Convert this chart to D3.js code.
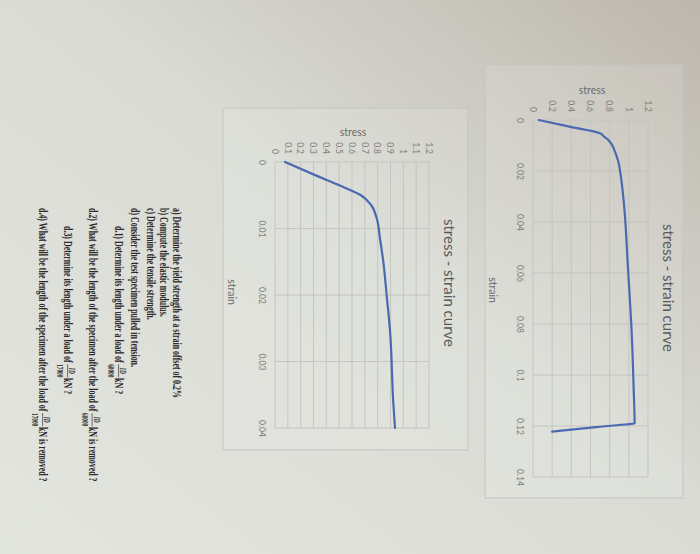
<!DOCTYPE html>
<html><head><meta charset="utf-8">
<script src="https://cdn.jsdelivr.net/npm/d3@7"></script>
<style>
html,body{margin:0;padding:0;background:#dcdfd8;overflow:hidden;}
svg{display:block;}
</style></head><body>
<svg id="c" width="700" height="554"></svg>
<script>
// ---------- data ----------
const chartTitle = "stress - strain curve";
const xAxisTitle = "strain";
const yAxisTitle = "stress";

// chart 1 (full curve)
const c1Strain = [0, 0.0026, 0.0052, 0.0065, 0.0078, 0.0092, 0.0124, 0.0163, 0.0216, 0.0333, 0.0575, 0.0837, 0.105, 0.119, 0.1196, 0.1203, 0.1212, 0.1222];
const c1Stress = [0.06, 0.38, 0.70, 0.74, 0.785, 0.815, 0.855, 0.89, 0.915, 0.95, 0.99, 1.03, 1.05, 1.06, 0.90, 0.70, 0.45, 0.20];
const c1StrainTicks = [0, 0.02, 0.04, 0.06, 0.08, 0.1, 0.12, 0.14];
const c1StrainLabels = ["0", "0.02", "0.04", "0.06", "0.08", "0.1", "0.12", "0.14"];
const c1StressTicks = [0, 0.2, 0.4, 0.6, 0.8, 1, 1.2];
const c1StressLabels = ["0", "0.2", "0.4", "0.6", "0.8", "1", "1.2"];

// chart 2 (zoomed start)
const c2Strain = [0, 0.0022, 0.0035, 0.005, 0.0065, 0.0085, 0.0115, 0.015, 0.020, 0.0253, 0.0363, 0.040];
const c2Stress = [0.078, 0.34, 0.50, 0.67, 0.75, 0.793, 0.818, 0.844, 0.87, 0.896, 0.922, 0.935];
const c2StrainTicks = [0, 0.01, 0.02, 0.03, 0.04];
const c2StrainLabels = ["0", "0.01", "0.02", "0.03", "0.04"];
const c2StressTicks = [0, 0.1, 0.2, 0.3, 0.4, 0.5, 0.6, 0.7, 0.8, 0.9, 1, 1.1, 1.2];
const c2StressLabels = ["0", "0.1", "0.2", "0.3", "0.4", "0.5", "0.6", "0.7", "0.8", "0.9", "1", "1.1", "1.2"];

// question text
const qText = [
  "a) Determine the yield strength at a strain offset of 0.2%",
  "b) Compute the elastic modulus.",
  "c) Determine the tensile strength.",
  "d) Consider the test specimen pulled in tension.",
  "d.1) Determine its length under a load of",
  "d.2) What will be the length of the specimen after the load of",
  "d.3) Determine its length under a load of",
  "d.4) What will be the length of the specimen after the load of"
];
const qNum = ["", "", "", "", "ID", "ID", "ID", "ID"];
const qDen = ["", "", "", "", "60000", "60000", "17000", "17000"];
const qSuffix = ["", "", "", "", " kN ?", " kN is removed ?", " kN ?", " kN is removed ?"];

// ---------- layout (page is photographed sideways) ----------
const svg = d3.select("#c");
const defs = svg.append("defs");
const bg = defs.append("linearGradient").attr("id", "bg")
  .attr("x1", 0).attr("y1", 1).attr("x2", 1).attr("y2", 0);
bg.append("stop").attr("offset", "0").attr("stop-color", "#e3e5df");
bg.append("stop").attr("offset", "0.55").attr("stop-color", "#d9dbd4");
bg.append("stop").attr("offset", "1").attr("stop-color", "#bdb7ad");
svg.append("rect").attr("width", 700).attr("height", 554).attr("fill", "url(#bg)");

// upright page frame (u along page width, v along page height), rotated into the photo
const root = svg.append("g").attr("transform", "translate(700,0) rotate(90)");
const chartFont = "Lato, 'Open Sans', sans-serif";

function drawChart(o) {
  const g = root.append("g");
  g.append("rect")
    .attr("x", o.box[0]).attr("y", o.box[2])
    .attr("width", o.box[1] - o.box[0]).attr("height", o.box[3] - o.box[2])
    .attr("fill", "rgba(255,255,255,0.12)").attr("stroke", "#c4c5c0").attr("stroke-width", 1);

  const x = d3.scaleLinear().domain([0, d3.max(o.strainTicks)]).range([o.plot[0], o.plot[1]]);
  const y = d3.scaleLinear().domain([0, d3.max(o.stressTicks)]).range([o.plot[3], o.plot[2]]);

  g.append("g").selectAll("line").data(o.stressTicks).join("line")
    .attr("x1", x.range()[0]).attr("x2", x.range()[1])
    .attr("y1", d => y(d)).attr("y2", d => y(d))
    .attr("stroke", "#c2c3be").attr("stroke-width", 0.9);
  g.append("g").selectAll("line").data(o.strainTicks).join("line")
    .attr("x1", d => x(d)).attr("x2", d => x(d))
    .attr("y1", y.range()[0]).attr("y2", y.range()[1])
    .attr("stroke", "#c2c3be").attr("stroke-width", 0.9);

  const ya = g.append("g").attr("transform", `translate(${o.plot[0]},0)`)
    .call(d3.axisLeft(y).tickValues(o.stressTicks).tickFormat((d, i) => o.stressLabels[i]).tickSize(0).tickPadding(o.yPad));
  ya.select(".domain").remove();
  ya.selectAll("text").attr("font-family", chartFont).attr("font-size", 8.5).attr("fill", "#7c7c7a");

  const xa = g.append("g").attr("transform", `translate(0,${o.plot[3]})`)
    .call(d3.axisBottom(x).tickValues(o.strainTicks).tickFormat((d, i) => o.strainLabels[i]).tickSize(0).tickPadding(o.xPad));
  xa.select(".domain").remove();
  xa.selectAll("text").attr("font-family", chartFont).attr("font-size", 8.5).attr("fill", "#7c7c7a");

  const pts = o.strain.map((s, i) => [s, o.stress[i]]);
  g.append("path").datum(pts)
    .attr("d", d3.line().x(d => x(d[0])).y(d => y(d[1])).curve(d3.curveMonotoneX))
    .attr("fill", "none").attr("stroke", "#4a69b0").attr("stroke-width", 2.2)
    .attr("stroke-linejoin", "round").attr("stroke-linecap", "round");

  g.append("text").attr("x", o.titlePos[0]).attr("y", o.titlePos[1])
    .attr("text-anchor", "middle").attr("font-family", chartFont).attr("font-size", 15)
    .attr("fill", "#5a5a58").text(chartTitle);
  g.append("text").attr("transform", `translate(${o.yTitlePos[0]},${o.yTitlePos[1]}) rotate(-90)`)
    .attr("dy", "0.35em").attr("text-anchor", "middle").attr("font-family", chartFont)
    .attr("font-size", 10.5).attr("fill", "#6c6c6a").text(yAxisTitle);
  g.append("text").attr("x", o.xTitlePos[0]).attr("y", o.xTitlePos[1])
    .attr("dy", "0.35em").attr("text-anchor", "middle").attr("font-family", chartFont)
    .attr("font-size", 10.5).attr("fill", "#6c6c6a").text(xAxisTitle);
}

drawChart({
  box: [65, 498, 17, 215], plot: [120, 477, 52, 167],
  strain: c1Strain, stress: c1Stress,
  strainTicks: c1StrainTicks, strainLabels: c1StrainLabels,
  stressTicks: c1StressTicks, stressLabels: c1StressLabels,
  yPad: 8, xPad: 10,
  titlePos: [288, 37], yTitlePos: [90, 108], xTitlePos: [290, 207]
});
drawChart({
  box: [108, 450, 232, 477], plot: [162, 428, 271, 425],
  strain: c2Strain, stress: c2Stress,
  strainTicks: c2StrainTicks, strainLabels: c2StrainLabels,
  stressTicks: c2StressTicks, stressLabels: c2StressLabels,
  yPad: 8, xPad: 10,
  titlePos: [283, 256], yTitlePos: [132, 347], xTitlePos: [292, 468]
});

// questions
const qPos = [[208, 527.5], [208, 540.5], [208, 553.5], [208, 569], [226, 585], [208, 611.5], [226, 636], [208, 661]];
const squeeze = 0.66;
const serif = "'Liberation Serif', 'Times New Roman', serif";
const ink = "#2c2c2c";
qText.forEach((txt, i) => {
  const g = root.append("g").attr("transform", `translate(${qPos[i][0]},${qPos[i][1]}) scale(${squeeze},1)`);
  const t = g.append("text").attr("font-family", serif).attr("font-weight", "bold")
    .attr("font-size", 12).attr("fill", ink).text(txt);
  if (qDen[i]) {
    const fx = t.node().getComputedTextLength() + 2.5;
    const den = g.append("text").attr("x", fx).attr("y", 6.8).attr("font-family", serif)
      .attr("font-weight", "bold").attr("font-size", 8).attr("fill", ink).text(qDen[i]);
    const dw = den.node().getComputedTextLength();
    g.append("line").attr("x1", fx).attr("x2", fx + dw).attr("y1", -3.6).attr("y2", -3.6)
      .attr("stroke", ink).attr("stroke-width", 0.8);
    g.append("text").attr("x", fx + dw / 2).attr("y", -5.4).attr("text-anchor", "middle")
      .attr("font-family", serif).attr("font-weight", "bold").attr("font-style", "italic")
      .attr("font-size", 8).attr("fill", ink).text(qNum[i]);
    g.append("text").attr("x", fx + dw + 1).attr("font-family", serif).attr("font-weight", "bold")
      .attr("font-size", 12).attr("fill", ink).text(qSuffix[i]);
  }
});
</script>
</body></html>
